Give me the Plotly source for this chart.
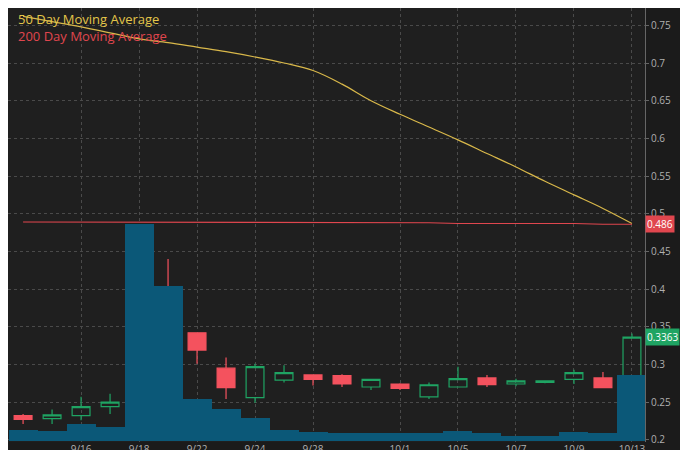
import plotly.graph_objects as go

dates = ["9/14","9/15","9/16","9/17","9/18","9/21","9/22","9/23","9/24","9/25","9/28","9/29","9/30",
         "10/1","10/2","10/5","10/6","10/7","10/8","10/9","10/12","10/13"]
opens  = [0.232,0.228,0.232,0.244,0.254,0.400,0.342,0.295,0.256,0.279,0.286,0.285,0.270,0.274,0.257,0.270,0.282,0.274,0.276,0.280,0.282,0.273]
highs  = [0.234,0.240,0.257,0.261,0.367,0.440,0.342,0.309,0.301,0.299,0.286,0.287,0.281,0.275,0.276,0.297,0.286,0.281,0.279,0.293,0.290,0.341]
lows   = [0.221,0.221,0.226,0.234,0.254,0.352,0.301,0.254,0.249,0.276,0.272,0.270,0.266,0.266,0.254,0.270,0.270,0.271,0.275,0.274,0.269,0.273]
closes = [0.227,0.233,0.244,0.250,0.322,0.364,0.319,0.269,0.297,0.289,0.280,0.274,0.280,0.268,0.273,0.281,0.273,0.278,0.278,0.289,0.269,0.3363]
volume = [1.1,1.0,1.7,1.4,21.7,15.5,4.2,3.2,2.3,1.1,0.9,0.8,0.8,0.8,0.8,1.0,0.8,0.5,0.5,0.9,0.8,6.6]
ma50  = [0.762,0.755,0.748,0.740,0.732,0.727,0.721,0.715,0.708,0.700,0.690,0.672,0.650,0.632,0.615,0.598,0.580,0.562,0.543,0.525,0.507,0.487]
ma200 = [0.489,0.489,0.489,0.489,0.489,0.489,0.489,0.489,0.489,0.488,0.488,0.488,0.488,0.488,0.488,0.487,0.487,0.487,0.487,0.487,0.486,0.486]
tick_idx = [2,4,6,8,10,13,15,17,19,21]
price_ticks = [0.2,0.25,0.3,0.35,0.4,0.45,0.5,0.55,0.6,0.65,0.7,0.75]

x = list(range(len(dates)))
GREEN = "#1fa463"; RED = "#f4525e"; GRID = "#4a4a4a"; TXT = "#b0b0b0"

fig = go.Figure()
fig.add_trace(go.Bar(x=x, y=volume, width=1, marker=dict(color="#0b5878", line=dict(width=0)),
                     yaxis="y2", showlegend=False))
fig.add_trace(go.Candlestick(x=x, open=opens, high=highs, low=lows, close=closes,
    increasing=dict(line=dict(color=GREEN, width=1.2), fillcolor="rgba(0,0,0,0)"),
    decreasing=dict(line=dict(color=RED, width=1.2), fillcolor=RED),
    whiskerwidth=0, showlegend=False))
fig.add_trace(go.Scatter(x=x, y=ma50, mode="lines", line=dict(color="#d9b84a", width=1.2, shape="spline"), showlegend=False))
fig.add_trace(go.Scatter(x=x, y=ma200, mode="lines", line=dict(color="#e0464e", width=1.2), showlegend=False))

fig.update_layout(
    width=688, height=450, margin=dict(l=0, r=51, t=0, b=16),
    paper_bgcolor="#1b1b1b", plot_bgcolor="#1f1f1f",
    font=dict(family="Open Sans", color=TXT, size=10),
    xaxis=dict(range=[-0.52, 21.45], tickvals=tick_idx, ticktext=[dates[i] for i in tick_idx],
               showgrid=True, gridcolor=GRID, griddash="dot", rangeslider=dict(visible=False),
               zeroline=False, ticks="", showline=False, ticklabelstandoff=0,
               domain=[0, 1]),
    yaxis=dict(side="right", range=[0.197, 0.773], tickvals=price_ticks,
               ticktext=[f"{v:g}" for v in price_ticks], showgrid=True, gridcolor=GRID, griddash="dot",
               zeroline=False, showline=True, linecolor="#666", ticks="outside", ticklen=3, tickcolor="#666"),
    yaxis2=dict(overlaying="y", range=[-0.1, 43.3], visible=False),
    bargap=0, boxgap=0.12,
)
fig.add_annotation(x=0.012, y=1.0, xref="paper", yref="paper", xanchor="left", yanchor="top",
                   text="50 Day Moving Average", showarrow=False, font=dict(color="#e3c64a", size=13))
fig.add_annotation(x=0.012, y=0.96, xref="paper", yref="paper", xanchor="left", yanchor="top",
                   text="200 Day Moving Average", showarrow=False, font=dict(color="#e0464e", size=13))
fig.add_annotation(x=1.0, y=ma200[-1], xref="paper", yref="y", xanchor="left", text=f"{ma200[-1]:g}",
                   showarrow=False, bgcolor="#e0464e", font=dict(color="white", size=10), borderpad=1)
fig.add_annotation(x=1.0, y=closes[-1], xref="paper", yref="y", xanchor="left", text=f"{closes[-1]:g}",
                   showarrow=False, bgcolor="#1fa463", font=dict(color="white", size=10), borderpad=1)
fig.write_html("out.html")
